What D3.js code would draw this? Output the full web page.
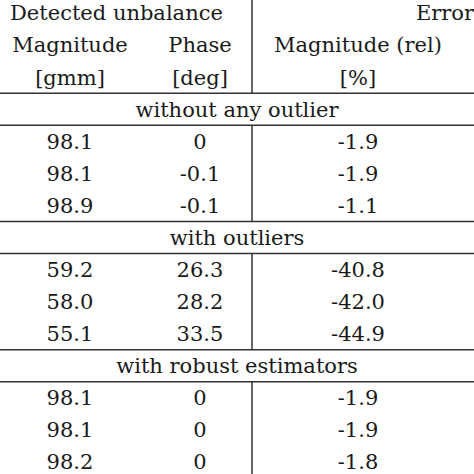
<!DOCTYPE html>
<html>
<head>
<meta charset="utf-8">
<script src="https://cdn.jsdelivr.net/npm/d3@7"></script>
<style>
  body { margin: 0; background: #fff; }
  text { fill: #1a1a1a; }
</style>
</head>
<body>
<div id="table"></div>
<script>
// table content
const groups = ["without any outlier", "with outliers", "with robust estimators"];
const magnitudes = [[98.1, 98.1, 98.9], [59.2, 58.0, 55.1], [98.1, 98.1, 98.2]];
const phases = [[0, -0.1, -0.1], [26.3, 28.2, 33.5], [0, 0, 0]];
const errors = [[-1.9, -1.9, -1.1], [-40.8, -42.0, -44.9], [-1.9, -1.9, -1.8]];

const width = 474, height = 474;
const svg = d3.select("#table").append("svg")
  .attr("width", width).attr("height", height);

// 15 rows: 3 header rows, then per group: 1 title + 3 data rows
const nRows = 15;
const y = d3.scaleBand().domain(d3.range(nRows)).range([-3, 478]);
const x = d3.scaleOrdinal().domain(["mag", "phase", "err"]).range([70, 200, 358]);
const fs = 21;

function txt(xx, row, s, anchor) {
  svg.append("text")
    .attr("x", xx).attr("y", y(row) + y.bandwidth() / 2)
    .attr("dy", "0.35em")
    .attr("text-anchor", anchor || "middle")
    .attr("font-family", "DejaVu Serif")
    .attr("font-size", fs)
    .text(s);
}

// header
txt(10, 0, "Detected unbalance", "start");
txt(474, 0, "Error", "end");
txt(x("mag"), 1, "Magnitude");
txt(x("phase"), 1, "Phase");
txt(x("err"), 1, "Magnitude (rel)");
txt(x("mag"), 2, "[gmm]");
txt(x("phase"), 2, "[deg]");
txt(x("err"), 2, "[%]");

const fmt = v => v === 0 ? "0" : v.toFixed(1);
const lines = [];
groups.forEach((g, gi) => {
  const r0 = 3 + gi * 4;
  txt(width / 2, r0, g);
  lines.push(y(r0), y(r0) + y.bandwidth());
  for (let i = 0; i < 3; i++) {
    txt(x("mag"), r0 + 1 + i, fmt(magnitudes[gi][i]));
    txt(x("phase"), r0 + 1 + i, fmt(phases[gi][i]));
    txt(x("err"), r0 + 1 + i, fmt(errors[gi][i]));
  }
});

// horizontal rules
svg.selectAll(".hrule").data(lines).join("line")
  .attr("x1", 0).attr("x2", width)
  .attr("y1", d => d).attr("y2", d => d)
  .attr("stroke", "#333").attr("stroke-width", 1.5);

// vertical rule, broken at group titles
const segs = [[y(0), y(3)]];
groups.forEach((g, gi) => {
  const r0 = 3 + gi * 4;
  segs.push([y(r0 + 1), gi === 2 ? height : y(r0 + 4)]);
});
svg.selectAll(".vrule").data(segs).join("line")
  .attr("x1", 252).attr("x2", 252)
  .attr("y1", d => d[0]).attr("y2", d => d[1])
  .attr("stroke", "#333").attr("stroke-width", 1.5);
</script>
</body>
</html>
